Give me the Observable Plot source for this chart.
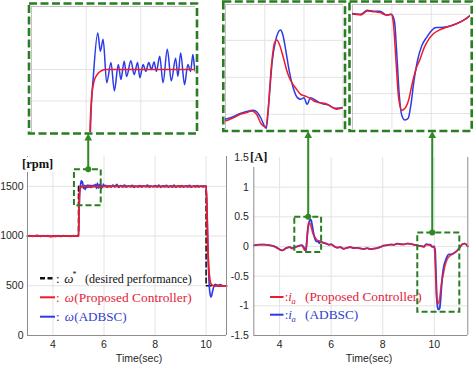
<!DOCTYPE html>
<html><head><meta charset="utf-8">
<script src="https://cdn.jsdelivr.net/npm/d3@7"></script>
<script src="https://cdn.jsdelivr.net/npm/@observablehq/plot@0.6"></script>
<style>
body{margin:0;background:#fff;}
#root{position:relative;width:474px;height:366px;overflow:hidden;background:#fff;}
#root > *{position:absolute;}
.lbl{font-family:"Liberation Serif","Times New Roman",serif;font-weight:bold;font-size:12.5px;color:#111;background:#fff;line-height:14px;}
</style></head><body><div id="root"></div>
<script>
// ---------------- DATA ----------------
const timeTicks = [4, 6, 8, 10];
const speedTicks = [0, 500, 1000, 1500];
const currentTicks = [-1.5, -1, -0.5, 0, 0.5, 1, 1.5];

// desired speed (reference)
const refT = [3, 5, 5, 10, 10, 10.8];
const refSpeed = [1000, 1000, 1500, 1500, 500, 500];

// proposed controller speed
const redSpeedT = [3.0, 3.5, 4.0, 4.5, 4.9, 5.0, 5.02, 5.035, 5.05, 5.07, 5.1, 5.14, 5.18, 5.5, 6, 6.5, 7, 7.5, 8, 8.5, 9, 9.5, 9.95, 10.0, 10.03, 10.06, 10.1, 10.15, 10.2, 10.3, 10.5, 10.8];
const redSpeed  = [1000, 1002, 998, 1001, 1000, 1000, 1250, 1400, 1455, 1480, 1492, 1498, 1500, 1500, 1500, 1502, 1499, 1501, 1500, 1499, 1501, 1500, 1500, 1500, 1300, 950, 700, 560, 515, 500, 498, 497];

// ADBSC speed
const blueSpeedT = [3.0, 3.1, 3.2, 3.3, 3.4, 3.5, 3.6, 3.7, 3.8, 3.9, 4.0, 4.1, 4.2, 4.3, 4.4, 4.5, 4.6, 4.7, 4.8, 4.9, 5.0, 5.02, 5.04,
  5.067, 5.106, 5.130, 5.155, 5.188, 5.227, 5.258, 5.294, 5.318, 5.348, 5.370, 5.409, 5.439, 5.470, 5.491, 5.521, 5.545, 5.573, 5.597, 5.621, 5.642, 5.673, 5.703, 5.742, 5.779, 5.818, 5.839, 5.864, 5.900, 5.930, 5.955, 5.976, 5.997,
  6.05, 6.12, 6.2, 6.28, 6.35, 6.42, 6.5, 6.58, 6.65, 6.72, 6.8, 6.88, 6.95, 7.02, 7.1, 7.18, 7.25, 7.33, 7.4, 7.48, 7.55, 7.62, 7.7, 7.78, 7.85, 7.92, 8.0, 8.08, 8.15, 8.22, 8.3, 8.38, 8.45, 8.52, 8.6, 8.68, 8.75, 8.82, 8.9, 8.98, 9.05, 9.12, 9.2, 9.28, 9.35, 9.42, 9.5, 9.58, 9.65, 9.72, 9.8, 9.88, 9.95,
  10.0, 10.04, 10.08, 10.12, 10.17, 10.2, 10.25, 10.3, 10.35, 10.45, 10.55, 10.65, 10.8];
const blueSpeed = [1000, 1004, 996, 1003, 1008, 995, 1006, 998, 1005, 994, 1003, 997, 1006, 995, 1004, 998, 1002, 996, 1004, 999, 1000, 1230, 1410,
  1492, 1558, 1529, 1548, 1479, 1511, 1466, 1508, 1484, 1513, 1489, 1514, 1492, 1511, 1487, 1508, 1497, 1511, 1500, 1512, 1497, 1521, 1479, 1532, 1482, 1518, 1489, 1526, 1476, 1508, 1497, 1524, 1497,
  1510, 1490, 1505, 1492, 1512, 1495, 1520, 1490, 1508, 1494, 1512, 1492, 1506, 1495, 1510, 1490, 1503, 1494, 1508, 1492, 1506, 1495, 1512, 1491, 1504, 1495, 1508, 1493, 1512, 1490, 1505, 1496, 1510, 1492, 1503, 1494, 1513, 1490, 1505, 1495, 1509, 1492, 1506, 1494, 1511, 1491, 1504, 1495, 1508, 1493, 1506, 1495, 1503,
  1500, 1250, 800, 520, 400, 387, 440, 490, 515, 505, 512, 500, 496];

// proposed controller current
const redCurT = [3.0, 3.2, 3.4, 3.6, 3.8, 3.95, 4.1, 4.25, 4.4, 4.484, 4.604, 4.6875, 4.771, 4.833, 4.896, 4.958, 5.0125, 5.042, 5.083, 5.125, 5.154, 5.1875, 5.2375, 5.29, 5.333, 5.396, 5.458, 5.5125, 5.5625, 5.625, 5.6875, 5.771, 5.854, 5.917, 6.0,
  6.12, 6.23, 6.35, 6.49, 6.6, 6.75, 6.88, 7.0, 7.13, 7.26, 7.4, 7.52, 7.65, 7.78, 7.9, 8.04, 8.17, 8.3, 8.43, 8.56, 8.69, 8.82, 8.95, 9.07, 9.2, 9.33, 9.42,
  9.524, 9.605, 9.687, 9.768, 9.849, 9.93, 9.991, 10.02, 10.052, 10.085, 10.126, 10.166, 10.215, 10.256, 10.305, 10.357, 10.41, 10.459, 10.52, 10.6, 10.7, 10.825, 10.927, 10.988, 11.1, 11.18, 11.3];
const redCur = [0.017, 0.03, 0.034, 0.02, 0.0, -0.04, -0.067, -0.03, -0.01, -0.036, -0.018, 0.0, 0.009, 0.018, 0.0, -0.054, -0.068, 0.018, 0.252, 0.387, 0.402, 0.378, 0.306, 0.225, 0.18, 0.141, 0.108, 0.099, 0.09, 0.072, 0.063, 0.058, 0.04, 0.027, 0.035,
  0.0, -0.02, -0.01, -0.04, -0.025, -0.01, -0.03, -0.02, -0.035, -0.04, -0.03, -0.045, -0.035, -0.03, -0.01, 0.017, 0.02, 0.034, 0.03, 0.045, 0.04, 0.034, 0.05, 0.045, 0.03, 0.02, 0.01,
  0.0, -0.007, 0.034, 0.027, 0.017, -0.007, 0.0, -0.1, -0.47, -0.84, -0.967, -0.947, -0.856, -0.705, -0.554, -0.453, -0.336, -0.262, -0.2, -0.16, -0.128, -0.094, -0.05, -0.017, 0.04, 0.05, 0.0];

// ADBSC current
const blueCurT = [3.0, 3.2, 3.4, 3.6, 3.8, 3.95, 4.1, 4.25, 4.4, 4.484, 4.604, 4.6875, 4.77, 4.854, 4.9, 4.958, 5.0, 5.02, 5.054, 5.096, 5.1375, 5.2, 5.23, 5.27, 5.3125, 5.3625, 5.417, 5.458, 5.5, 5.54, 5.583, 5.646, 5.73, 5.81, 5.896, 6.0,
  6.12, 6.23, 6.35, 6.49, 6.6, 6.75, 6.88, 7.0, 7.13, 7.26, 7.4, 7.52, 7.65, 7.78, 7.9, 8.04, 8.17, 8.3, 8.43, 8.56, 8.69, 8.82, 8.95, 9.07, 9.2, 9.33, 9.42,
  9.524, 9.605, 9.687, 9.768, 9.849, 9.93, 9.991, 10.032, 10.06, 10.093, 10.126, 10.166, 10.207, 10.239, 10.28, 10.329, 10.378, 10.439, 10.491, 10.56, 10.622, 10.7, 10.825, 10.927, 10.988, 11.1, 11.18, 11.3];
const blueCur = [0.02, 0.032, 0.03, 0.022, 0.003, -0.035, -0.065, -0.028, -0.012, -0.027, -0.012, 0.004, 0.015, 0.022, 0.012, -0.027, -0.068, -0.076, 0.072, 0.288, 0.396, 0.456, 0.432, 0.342, 0.234, 0.144, 0.09, 0.081, 0.09, 0.054, 0.09, 0.076, 0.058, 0.05, 0.032, 0.036,
  0.004, -0.018, -0.012, -0.038, -0.022, -0.012, -0.028, -0.022, -0.032, -0.042, -0.028, -0.043, -0.037, -0.028, -0.012, 0.015, 0.022, 0.032, 0.028, 0.047, 0.038, 0.036, 0.048, 0.043, 0.032, 0.018, 0.012,
  0.007, 0.0, 0.04, 0.03, 0.03, -0.007, 0.0, -0.067, -0.37, -0.806, -1.02, -1.065, -1.048, -0.924, -0.672, -0.453, -0.319, -0.235, -0.175, -0.134, -0.134, -0.126, -0.092, -0.05, -0.015, 0.042, 0.048, 0.002];

// zoom boxes drawn in main panels (data coords) and the arrow position on each
const speedBox = [{t1: 4.84, t2: 5.89, v1: 1304, v2: 1666, arrowT: 5.40}];
const currentBoxes = [
  {t1: 4.59, t2: 5.63, v1: -0.10, v2: 0.495, arrowT: 5.13},
  {t1: 9.36, t2: 10.99, v1: -1.11, v2: 0.226, arrowT: 9.94}
];

// inset domains and grid values
const inset1X = [4.5, 6.0], inset1Y = [1400, 1600], inset1GX = [5, 5.5], inset1GY = [1450, 1500];
const inset2X = [4.5, 6.0], inset2Y = [-0.085, 0.594], inset2GX = [5, 5.5], inset2GY = [0, 0.2, 0.4];
const inset3X = [9.5, 11.0], inset3Y = [-1.166, 0.099], inset3GX = [10, 10.5], inset3GY = [-1, -0.8, 0];

// legend labels
const speedLegend = ["(desired performance)", "(Proposed Controller)", "(ADBSC)"];
const currentLegend = ["(Proposed Controller)", "(ADBSC)"];

// ---------------- DRAW ----------------
const root = document.getElementById("root");
const RED = "#ee1c2b", BLUE = "#2b3be6", GREEN = "#2a7d22", AXIS = "#8e8e8e", GRID = "#e3e3e3";
const RED_TXT = "#e3213a", BLUE_TXT = "#3040cc";
const pts = (T, V) => T.map((t, i) => ({t, v: V[i]}));
const baseStyle = {background: "transparent", fontFamily: "'Liberation Sans', Arial, sans-serif", fontSize: "10.5px", color: "#262626", overflow: "visible"};
const fmt = d => String(d);

function place(el, left, top) { el.style.position = "absolute"; el.style.left = left + "px"; el.style.top = top + "px"; root.appendChild(el); return el; }

const redSpeedData = pts(redSpeedT, redSpeed), blueSpeedData = pts(blueSpeedT, blueSpeed), refData = pts(refT, refSpeed);
const redCurData = pts(redCurT, redCur), blueCurData = pts(blueCurT, blueCur);

const SP = {left: 0, top: 0};
const speedPlot = Plot.plot({
  width: 240, height: 366, marginTop: 156, marginBottom: 31, marginLeft: 27, marginRight: 14,
  style: baseStyle,
  x: {domain: [3, 10.8], ticks: timeTicks, tickSize: 0, tickPadding: 5, tickFormat: fmt, label: null},
  y: {domain: [0, 1800], ticks: speedTicks, tickSize: 0, tickPadding: 4, tickFormat: fmt, label: null},
  marks: [
    Plot.ruleX(timeTicks, {stroke: GRID}),
    Plot.ruleY(speedTicks.filter(d => d > 0), {stroke: GRID}),
    Plot.line(refData, {x: "t", y: "v", stroke: "#111", strokeWidth: 1.6, strokeDasharray: "5,3"}),
    Plot.line(blueSpeedData, {x: "t", y: "v", stroke: BLUE, strokeWidth: 1.6, curve: "monotone-x"}),
    Plot.line(redSpeedData, {x: "t", y: "v", stroke: RED, strokeWidth: 1.8, curve: "monotone-x"}),
    Plot.ruleX([3, 10.8], {stroke: AXIS}),
    Plot.ruleY([0], {stroke: AXIS}),
    Plot.rect(speedBox, {x1: "t1", x2: "t2", y1: "v1", y2: "v2", fill: "none", stroke: GREEN, strokeWidth: 2, strokeDasharray: "6,3"})
  ]
});
place(speedPlot, SP.left, SP.top);

const CP = {left: 228, top: 0};
const currentPlot = Plot.plot({
  width: 246, height: 366, marginTop: 157, marginBottom: 31, marginLeft: 25.3, marginRight: 6.7,
  style: baseStyle,
  x: {domain: [3, 11.3], ticks: timeTicks, tickSize: 0, tickPadding: 5, tickFormat: fmt, label: null},
  y: {domain: [-1.5, 1.5], ticks: currentTicks, tickSize: 0, tickPadding: 5, tickFormat: fmt, label: null},
  marks: [
    Plot.ruleX(timeTicks, {stroke: GRID}),
    Plot.ruleY(currentTicks.filter(d => Math.abs(d) < 1.5), {stroke: GRID}),
    Plot.line(blueCurData, {x: "t", y: "v", stroke: BLUE, strokeWidth: 1.8, curve: "monotone-x"}),
    Plot.line(redCurData, {x: "t", y: "v", stroke: RED, strokeWidth: 1.6, strokeOpacity: 0.85, curve: "monotone-x"}),
    Plot.ruleX([3, 11.3], {stroke: AXIS}),
    Plot.ruleY([-1.5], {stroke: AXIS}),
    Plot.rect(currentBoxes, {x1: "t1", x2: "t2", y1: "v1", y2: "v2", fill: "none", stroke: GREEN, strokeWidth: 2, strokeDasharray: "6,3"})
  ]
});
place(currentPlot, CP.left, CP.top);

// insets
const insetLayout = [
  {left: 31, top: 5.5, width: 164, height: 126},
  {left: 225.3, top: 3.5, width: 117.7, height: 125.5},
  {left: 351.5, top: 3.5, width: 118.2, height: 125.5}
];
function inset(L, xd, yd, gx, gy, series) {
  const p = Plot.plot({
    width: L.width, height: L.height, margin: 0,
    style: {background: "#fff", overflow: "hidden"},
    x: {domain: xd, axis: null},
    y: {domain: yd, axis: null},
    marks: [
      Plot.ruleX(gx, {stroke: GRID}),
      Plot.ruleY(gy, {stroke: GRID}),
      Plot.frame({stroke: "#c4c4c4"}),
      ...series.map(s => Plot.line(s.data.filter(d => d.t >= xd[0] - 0.3 && d.t <= xd[1] + 0.3), {x: "t", y: "v", stroke: s.color, strokeWidth: s.w, strokeOpacity: s.o || 1, curve: "monotone-x", clip: true}))
    ]
  });
  place(p, L.left, L.top);
}
inset(insetLayout[0], inset1X, inset1Y, inset1GX, inset1GY, [{data: blueSpeedData, color: BLUE, w: 1.5}, {data: redSpeedData, color: RED, w: 1.6}]);
inset(insetLayout[1], inset2X, inset2Y, inset2GX, inset2GY, [{data: blueCurData, color: BLUE, w: 1.5}, {data: redCurData, color: RED, w: 1.5}]);
inset(insetLayout[2], inset3X, inset3Y, inset3GX, inset3GY, [{data: blueCurData, color: BLUE, w: 1.5}, {data: redCurData, color: RED, w: 1.5}]);

// unit labels
const rpm = document.createElement("div"); rpm.className = "lbl"; rpm.textContent = "[rpm]"; rpm.style.padding = "0 1px 1px 1px";
place(rpm, 21, 157);
const amp = document.createElement("div"); amp.className = "lbl"; amp.textContent = "[A]"; amp.style.padding = "0 1px 3px 1px";
place(amp, 249, 150);

// overlay
const svg = d3.create("svg").attr("width", 474).attr("height", 366).style("position", "absolute").style("left", 0).style("top", 0).style("overflow", "visible");
root.appendChild(svg.node());

// inset dashed borders
insetLayout.forEach(L => {
  svg.append("rect").attr("x", L.left - 2).attr("y", L.top - 2).attr("width", L.width + 4).attr("height", L.height + 4)
    .attr("fill", "none").attr("stroke", GREEN).attr("stroke-width", 2.6).attr("stroke-dasharray", "8,3.5");
});

function scaleFn(plot, name) {
  const s = plot.scale(name);
  return s.apply ? v => s.apply(v) : d3.scaleLinear(s.domain, s.range);
}
const sx = scaleFn(speedPlot, "x"), sy = scaleFn(speedPlot, "y");
const cx = scaleFn(currentPlot, "x"), cy = scaleFn(currentPlot, "y");
const arrows = [
  {x: SP.left + sx(speedBox[0].arrowT), y: SP.top + sy(speedBox[0].v2), tip: insetLayout[0].top + insetLayout[0].height + 2},
  {x: CP.left + cx(currentBoxes[0].arrowT), y: CP.top + cy(currentBoxes[0].v2), tip: insetLayout[1].top + insetLayout[1].height + 2},
  {x: CP.left + cx(currentBoxes[1].arrowT), y: CP.top + cy(currentBoxes[1].v2), tip: insetLayout[2].top + insetLayout[2].height + 2}
];
arrows.forEach(a => {
  svg.append("line").attr("x1", a.x).attr("x2", a.x).attr("y1", a.y).attr("y2", a.tip + 5).attr("stroke", "#2f8a24").attr("stroke-width", 2);
  svg.append("path").attr("d", `M${a.x},${a.tip} L${a.x - 3.8},${a.tip + 7} L${a.x + 3.8},${a.tip + 7} Z`).attr("fill", "#2f8a24");
  svg.append("circle").attr("cx", a.x).attr("cy", a.y).attr("r", 3).attr("fill", "#2f8a24");
});

// axis titles
[{x: 139, t: "Time(sec)"}, {x: 369, t: "Time(sec)"}].forEach(d => {
  svg.append("text").attr("x", d.x).attr("y", 362).attr("text-anchor", "middle")
    .attr("font-family", "'Liberation Sans', Arial, sans-serif").attr("font-size", 10.5).attr("fill", "#262626").text(d.t);
});

// legends
const serif = "'Liberation Serif','Times New Roman',serif";
function legendRow(o) {
  if (o.dash) svg.append("line").attr("x1", o.x0).attr("x2", o.x1).attr("y1", o.y).attr("y2", o.y).attr("stroke", o.line).attr("stroke-width", 2.6).attr("stroke-dasharray", "5,2.5");
  else svg.append("line").attr("x1", o.x0).attr("x2", o.x1).attr("y1", o.y).attr("y2", o.y).attr("stroke", o.line).attr("stroke-width", 2);
  const base = o.y + 4.3;
  const g = svg.append("g").attr("font-family", serif).attr("font-size", 13).attr("fill", o.color);
  g.append("text").attr("x", o.colonX).attr("y", base).text(":");
  g.append("text").attr("x", o.symX).attr("y", base).attr("font-style", "italic").text(o.sym);
  if (o.sup) g.append("text").attr("x", o.supX).attr("y", base - 5.5).attr("font-size", 8).text(o.sup);
  if (o.sub) g.append("text").attr("x", o.subX).attr("y", base + 2.5).attr("font-size", 8.5).attr("font-style", "italic").text(o.sub);
  g.append("text").attr("x", o.parenX).attr("y", base).attr("textLength", o.len).attr("lengthAdjust", "spacingAndGlyphs").text(o.label);
}
legendRow({x0: 40, x1: 55, y: 278.3, line: "#111", dash: true, color: "#111", colonX: 56, symX: 64.3, sym: "ω", sup: "*", supX: 72.6, parenX: 85, label: speedLegend[0], len: 106.7});
legendRow({x0: 40, x1: 55, y: 297.3, line: RED, color: RED_TXT, colonX: 56, symX: 64.8, sym: "ω", parenX: 74.3, label: speedLegend[1], len: 117.4});
legendRow({x0: 40, x1: 55, y: 316.7, line: BLUE, color: BLUE_TXT, colonX: 56, symX: 64.8, sym: "ω", parenX: 74.3, label: speedLegend[2], len: 52.4});
legendRow({x0: 270, x1: 283.5, y: 297, line: RED, color: RED_TXT, colonX: 284.8, symX: 288.3, sym: "i", sub: "a", subX: 291.5, parenX: 305, label: currentLegend[0], len: 116.7});
legendRow({x0: 270, x1: 283.5, y: 314.7, line: BLUE, color: BLUE_TXT, colonX: 284.8, symX: 288.3, sym: "i", sub: "a", subX: 291.5, parenX: 305, label: currentLegend[1], len: 53.3});
</script>
</body></html>
